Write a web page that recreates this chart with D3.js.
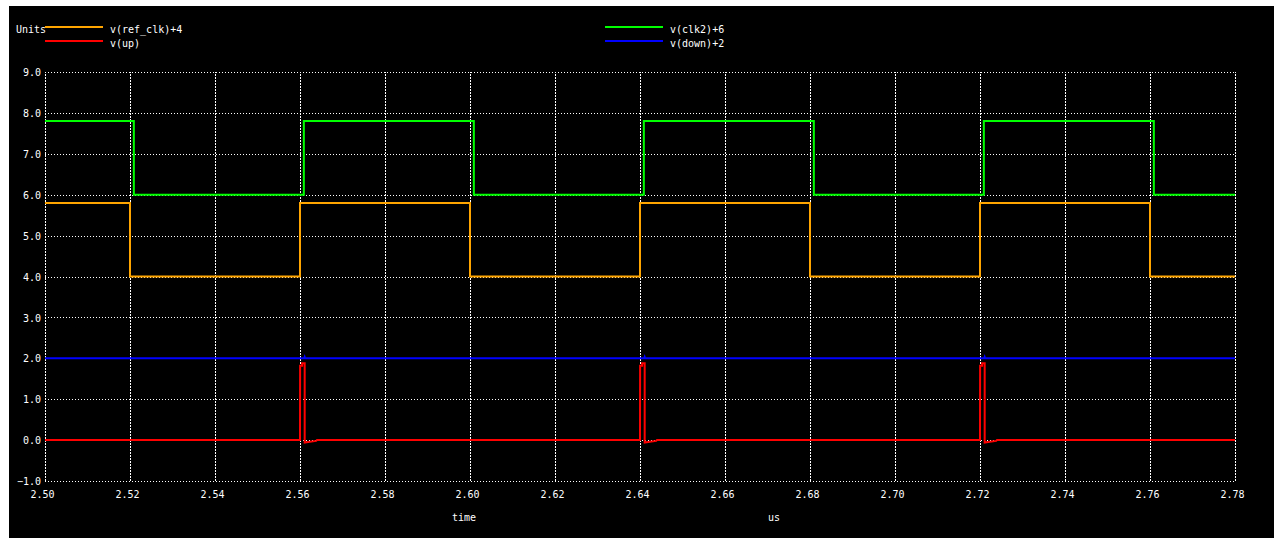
<!DOCTYPE html>
<html>
<head>
<meta charset="utf-8">
<script src="https://cdn.jsdelivr.net/npm/d3@7/dist/d3.min.js"></script>
<style>
body{margin:0;background:#fff}
text{font-family:"DejaVu Sans Mono",monospace;font-size:10px;fill:#fff}
</style>
</head>
<body>
<div id="chart"></div>
<script>
// tick values
var xTicks=[2.50,2.52,2.54,2.56,2.58,2.60,2.62,2.64,2.66,2.68,2.70,2.72,2.74,2.76,2.78]
var yTicks=[-1,0,1,2,3,4,5,6,7,8,9]

// traces, [time (us), volts]
var refClk=[[2.50,5.8],[2.52,5.8],[2.52,4.0],[2.56,4.0],[2.56,5.8],[2.60,5.8],[2.60,4.0],[2.64,4.0],
    [2.64,5.8],[2.68,5.8],[2.68,4.0],[2.72,4.0],[2.72,5.8],[2.76,5.8],[2.76,4.0],[2.78,4.0]]
var clk2=[[2.50,7.8],[2.5209,7.8],[2.5209,6.0],[2.5609,6.0],[2.5609,7.8],[2.6009,7.8],[2.6009,6.0],[2.6409,6.0],
    [2.6409,7.8],[2.6809,7.8],[2.6809,6.0],[2.7209,6.0],[2.7209,7.8],[2.7609,7.8],[2.7609,6.0],[2.78,6.0]]
var up=[[2.50,0],
    [2.5600,0],[2.56003,1.82],[2.5605,1.82],[2.5605,1.88],[2.5611,1.88],[2.5611,-0.06],[2.5623,-0.04],[2.5638,-0.02],[2.5640,0],
    [2.6400,0],[2.64003,1.82],[2.6405,1.82],[2.6405,1.88],[2.6411,1.88],[2.6411,-0.06],[2.6423,-0.04],[2.6438,-0.02],[2.6440,0],
    [2.7200,0],[2.72003,1.82],[2.7205,1.82],[2.7205,1.88],[2.7211,1.88],[2.7211,-0.06],[2.7223,-0.04],[2.7238,-0.02],[2.7240,0],
    [2.78,0]]
var down=[[2.50,2.0],
    [2.5610,2.0],[2.5611,2.03],[2.5612,2.0],
    [2.6410,2.0],[2.6411,2.03],[2.6412,2.0],
    [2.7210,2.0],[2.7211,2.03],[2.7212,2.0],
    [2.78,2.0]]

var legendNames=["v(ref_clk)+4","v(up)","v(clk2)+6","v(down)+2"]
var colors=["#ffa500","#ff0000","#00ff00","#0000ff"]
var series=[refClk,up,clk2,down]

var svgWidth=1274, svgHeight=542
var plot={left:45,right:1235,top:72,bottom:481}

var svg=d3.select("#chart").append("svg")
    .attr("width",svgWidth).attr("height",svgHeight)

svg.append("rect").attr("x",9).attr("y",6)
    .attr("width",svgWidth-9).attr("height",532).attr("fill","#000")

var x=d3.scaleLinear().domain([2.50,2.78]).range([plot.left,plot.right])
var y=d3.scaleLinear().domain([-1,9]).range([plot.bottom,plot.top])

// horizontal grid + y labels
var yAxis=d3.axisLeft(y).tickValues(yTicks)
    .tickSize(-(plot.right-plot.left)).tickPadding(4)
    .tickFormat(d3.format(".1f"))
var gy=svg.append("g").attr("transform",`translate(${plot.left},0)`).call(yAxis)
gy.select(".domain").remove()
gy.selectAll("line").attr("stroke","#fff").attr("stroke-dasharray","1,2").attr("shape-rendering","crispEdges")
gy.selectAll("text").attr("fill","#fff").attr("font-size",10).attr("font-family","DejaVu Sans Mono")
    .attr("dy","0.36em")

// vertical grid + x labels
var xAxis=d3.axisBottom(x).tickValues(xTicks)
    .tickSize(-(plot.bottom-plot.top)).tickPadding(10)
    .tickFormat(d3.format(".2f"))
var gx=svg.append("g").attr("transform",`translate(0,${plot.bottom})`).call(xAxis)
gx.select(".domain").remove()
gx.selectAll("line").attr("stroke","#fff").attr("stroke-dasharray","2,1").attr("shape-rendering","crispEdges")
gx.selectAll("text").attr("fill","#fff").attr("font-size",10).attr("font-family","DejaVu Sans Mono")
    .attr("x",-3)

svg.append("text").attr("x",452).attr("y",521).text("time")
svg.append("text").attr("x",768).attr("y",521).text("us")

var line=d3.line().x(d=>x(d[0])).y(d=>y(d[1]))

svg.selectAll("path.trace").data(series).enter()
    .append("path").attr("class","trace")
    .attr("d",d=>line(d))
    .attr("fill","none")
    .attr("stroke",(d,i)=>colors[i])
    .attr("stroke-width",2)

// legend
svg.append("text").attr("x",16).attr("y",33).text("Units")
var legX=[45,45,605,605], legY=[27,41,27,41]
legendNames.forEach((n,i)=>{
    svg.append("line").attr("x1",legX[i]).attr("x2",legX[i]+58)
        .attr("y1",legY[i]).attr("y2",legY[i])
        .attr("stroke",colors[i]).attr("stroke-width",2)
    svg.append("text").attr("x",legX[i]+65).attr("y",legY[i]+6).text(n)
})
</script>
</body>
</html>
